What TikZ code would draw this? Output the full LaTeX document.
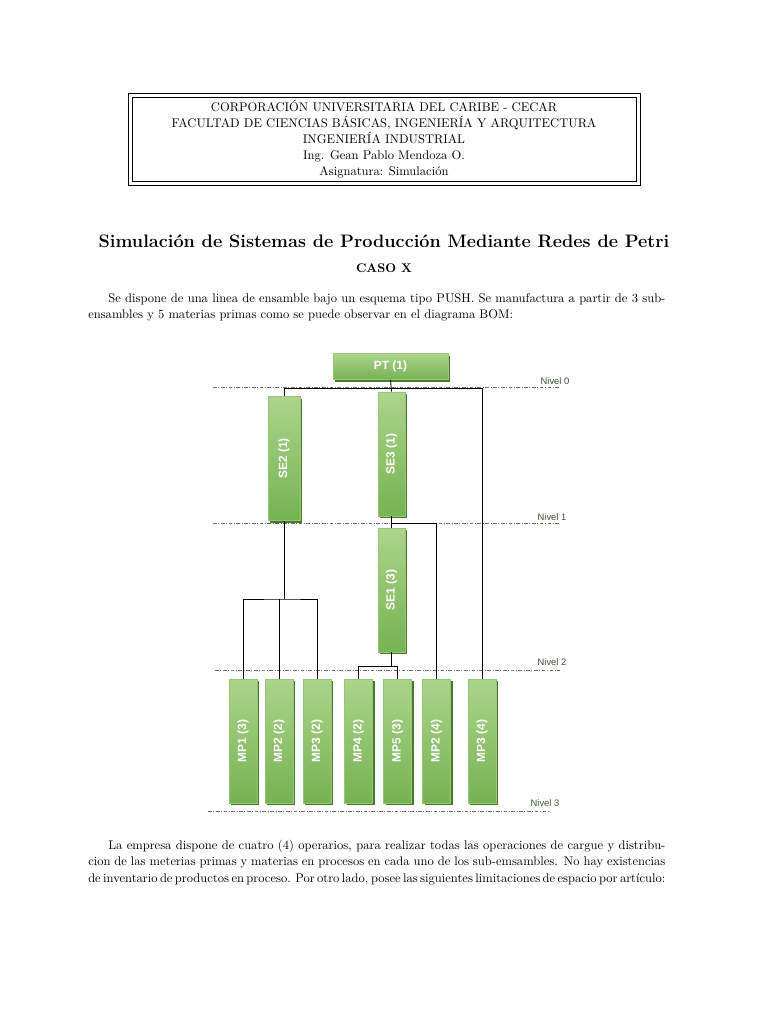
\documentclass[tikz,border=0pt]{standalone}
\usepackage{fontspec}
\newfontfamily\bomfont{Liberation Sans}
\usetikzlibrary{positioning, shadows}

\definecolor{boxlight}{RGB}{172,212,140}
\definecolor{boxmid}{RGB}{118,178,82}
\definecolor{boxedge}{RGB}{150,200,115}
\definecolor{boxshadow}{RGB}{72,122,44}
\definecolor{niveltext}{RGB}{58,84,48}
\definecolor{nivelline}{RGB}{105,115,105}

\tikzset{
  bombox/.style={draw=boxedge, line width=0.5pt, top color=boxlight, bottom color=boxmid,
    inner sep=0pt, text=white, font=\bomfont\bfseries\fontsize{9.5}{10}\selectfont,
    drop shadow={shadow xshift=1.8pt, shadow yshift=-1.8pt, fill=boxshadow, opacity=1}},
  bomtall/.style={bombox, minimum width=22.3pt, minimum height=98.8pt},
  link/.style={line width=0.7pt},
  nivel/.style={draw=nivelline, line width=0.8pt, dash pattern=on 3pt off 1.2pt on 0.8pt off 1.2pt},
  nivellabel/.style={text=niveltext, font=\bomfont\fontsize{7.5}{8}\selectfont, inner sep=0pt},
  parrafo/.style={text width=460pt, align=justify, anchor=north west, inner sep=0pt,
    font=\fontsize{10}{13}\selectfont}
}

\begin{document}
\begin{tikzpicture}[x=0.797pt, y=-0.797pt]
\useasboundingbox (0,0) rectangle (768,1024);
% encabezado
\draw[line width=0.6pt] (128,93) rectangle (640,185);
\draw[line width=0.6pt] (132,97) rectangle (636,181);
\node[align=center, inner sep=0pt, font=\fontsize{10}{12.8}\selectfont] (header) at (384,139) {CORPORACIÓN UNIVERSITARIA DEL CARIBE - CECAR\\
  FACULTAD DE CIENCIAS BÁSICAS, INGENIERÍA Y ARQUITECTURA\\
  INGENIERÍA INDUSTRIAL\\
  Ing. Gean Pablo Mendoza O.\\
  Asignatura: Simulación};
\node[font=\Large\bfseries] (title) at (384,241) {Simulación de Sistemas de Producción Mediante Redes de Petri};
\node[font=\bfseries] (caso) at (384,268) {CASO X};
\node[parrafo] (intro) at (88,293) {\hspace*{16pt}Se dispone de una linea de ensamble bajo un esquema tipo PUSH. Se manufactura a partir de 3 sub-\linebreak ensambles y 5 materias primas como se puede observar en el diagrama BOM:};

% niveles
\draw[nivel] (213,387) -- (560,387);
\draw[nivel] (213,523) -- (560,523);
\draw[nivel] (215,670) -- (560,670);
\draw[nivel] (208,811) -- (550,811);
\node[nivellabel] (n0) at (555,381) {Nivel 0};
\node[nivellabel] (n1) at (552,517) {Nivel 1};
\node[nivellabel] (n2) at (552,662) {Nivel 2};
\node[nivellabel] (n3) at (545,803) {Nivel 3};

% cajas
\node[bombox, minimum width=91.6pt, minimum height=20.7pt] (pt) at (390.5,366.5) {PT (1)};
\node[bomtall, minimum width=25.5pt] (se2) at (284,458.5) {\rotatebox{90}{SE2 (1)}};
\node[bomtall, minimum width=21.5pt] (se3) at (391.5,454) {\rotatebox{90}{SE3 (1)}};
\node[bomtall, minimum width=21.5pt] (se1) at (391.5,590) {\rotatebox{90}{SE1 (3)}};
\foreach \nm/\x/\lbl in {mp13/243/MP1 (3), mp22/279/MP2 (2), mp32/317/MP3 (2), mp42/358.5/MP4 (2),
    mp53/397.5/MP5 (3), mp24/436.5/MP2 (4), mp34/482/MP3 (4)}
  \node[bomtall] (\nm) at (\x,741) {\rotatebox{90}{\lbl}};

% conexiones
\coordinate (j0) at (391.5,388);
\coordinate (j1) at (391.5,523);
\coordinate (j2) at (284,599);
\coordinate (j3) at (391.5,666);
\draw[link] (pt.south) -- (se3.north);
\draw[link] (se2.north) -- (se2.north |- j0) -| (mp34.north);
\draw[link] (se3.south) -- (se1.north);
\draw[link] (j1) -| (mp24.north);
\draw[link] (se2.south) -- (j2);
\draw[link] (mp13.north) |- (j2) -| (mp32.north);
\draw[link] (mp22.north) -- (mp22.north |- j2);
\draw[link] (se1.south) -- (j3);
\draw[link] (mp42.north) |- (j3) -| (mp53.north);

\node[parrafo] (empresa) at (88,840) {\spaceskip=0.28em plus 0.2em minus 0.12em\parfillskip=0pt\hspace*{16pt}La empresa dispone de cuatro (4) operarios, para realizar todas las operaciones de cargue y distribu-\linebreak cion de las meterias primas y materias en procesos en cada uno de los sub-emsambles. No hay existencias\linebreak de inventario de productos en proceso. Por otro lado, posee las siguientes limitaciones de espacio por artículo:};
\end{tikzpicture}
\end{document}
